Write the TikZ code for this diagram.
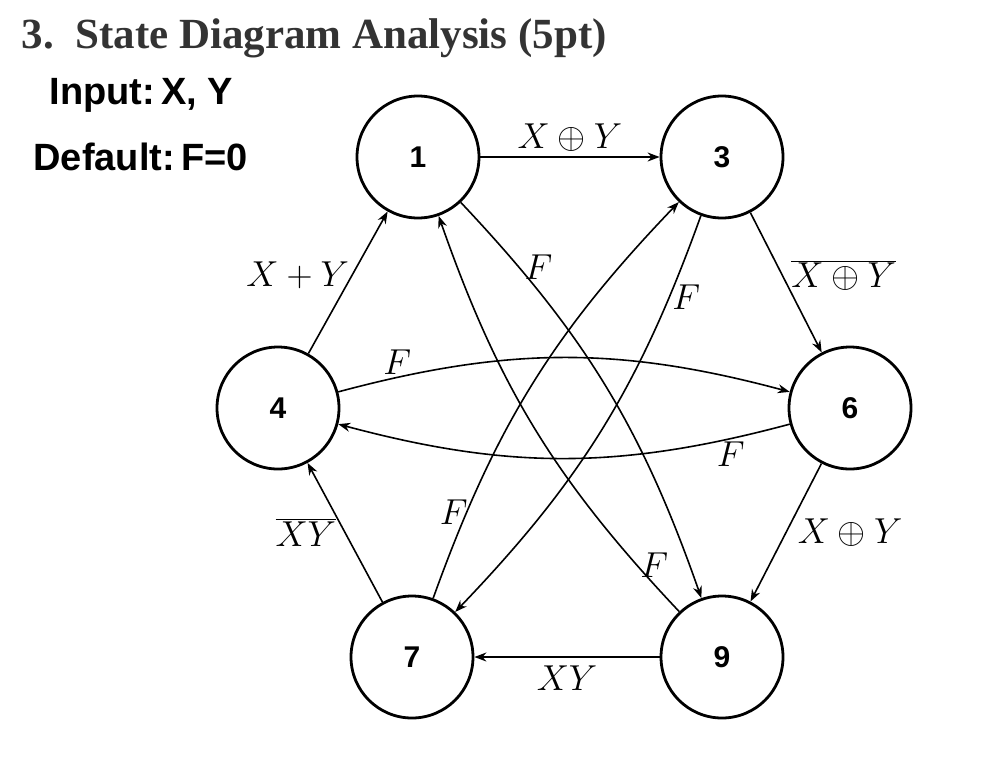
\documentclass[tikz,border=0pt]{standalone}
\usepackage{fontspec}
\setmainfont{Liberation Serif}
\setsansfont{Liberation Sans}
\usetikzlibrary{arrows.meta}

\tikzset{
  state/.style={circle, draw, line width=2.8pt, minimum size=122pt, inner sep=0pt,
    font=\sffamily\bfseries\fontsize{30}{34}\selectfont},
  trans/.style={-{Stealth[length=12pt,width=9pt]}, line width=1.6pt},
  lbl/.style={font=\fontsize{24}{28}\selectfont, scale=1.45, transform shape}
}

\begin{document}
\begin{tikzpicture}[x=1pt,y=-1pt]
\useasboundingbox (0,0) rectangle (992,772);

% heading
\node[anchor=west, text=black!80, font=\bfseries\fontsize{43}{48}\selectfont] (title) at (18,38) {3.\ \ State Diagram Analysis (5pt)};
\node[anchor=west, font=\sffamily\bfseries\fontsize{38}{42}\selectfont] (inp) at (46,95) {Input:\,X, Y};
\node[anchor=west, font=\sffamily\bfseries\fontsize{38}{42}\selectfont] (def) at (30,157) {Default:\,F=0};

% states
\node[state] (s1) at (418,157) {1};
\node[state] (s3) at (722,157) {3};
\node[state] (s4) at (278,408) {4};
\node[state] (s6) at (850,408) {6};
\node[state] (s7) at (412,657) {7};
\node[state] (s9) at (722,657) {9};

% outer ring
\draw[trans] (s1) -- node[lbl, above=0pt] {$X\oplus Y$} (s3);
\draw[trans] (s3) -- node[lbl, right=2pt, pos=0.45] {$\overline{X\oplus Y}$} (s6);
\draw[trans] (s6) -- node[lbl, right=4pt] {$X\oplus Y$} (s9);
\draw[trans] (s9) -- node[lbl, below=2pt] {$XY$} (s7);
\draw[trans] (s7) -- node[lbl, left=2pt] {$\overline{XY}$} (s4);
\draw[trans] (s4) -- node[lbl, left=-2pt, pos=0.55] {$X+Y$} (s1);

% inner transitions
\draw[trans] (s4) to[bend left=15] node[lbl, pos=0.12, above=-2pt] {$F$} (s6);
\draw[trans] (s6) to[bend left=15] node[lbl, pos=0.12, below=-2pt] {$F$} (s4);
\draw[trans] (s1) to[bend left=12] node[lbl, pos=0.17, right=0pt] {$F$} (s9);
\draw[trans] (s9) to[bend left=12] node[lbl, pos=0.12, right=-2pt] {$F$} (s1);
\draw[trans] (s3) to[bend left=12] node[lbl, pos=0.17, right=-2pt] {$F$} (s7);
\draw[trans] (s7) to[bend left=12] node[lbl, pos=0.18, left=-5pt] {$F$} (s3);
\end{tikzpicture}
\end{document}
